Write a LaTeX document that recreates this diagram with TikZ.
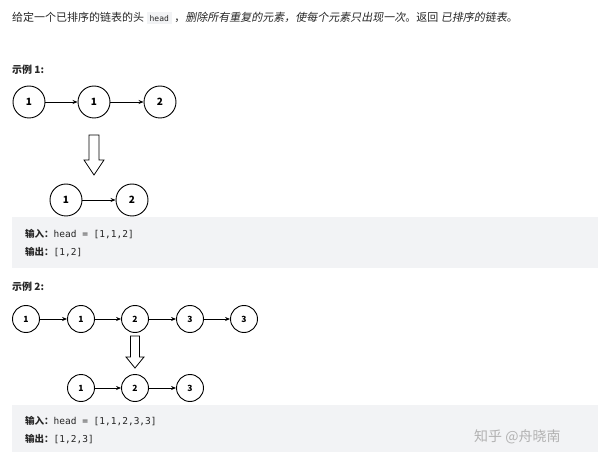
\documentclass[tikz,border=0pt]{standalone}
\usepackage{fontspec}
\setmainfont{Noto Sans CJK SC}
\newfontfamily\slantcjk[FakeSlant=0.2]{Noto Sans CJK SC}
\setmonofont{DejaVu Sans Mono}
\usetikzlibrary{arrows.meta}
\definecolor{codebg}{HTML}{F2F3F5}
\definecolor{txt}{HTML}{262626}
\tikzset{
  nodeA/.style={circle,draw,line width=0.9pt,minimum size=32pt,inner sep=0pt,font=\bfseries\fontsize{10}{12}\selectfont},
  nodeB/.style={circle,draw,line width=0.9pt,minimum size=27pt,inner sep=0pt,font=\bfseries\fontsize{8.5}{10}\selectfont},
  lnk/.style={-{Stealth[length=5pt,width=4pt]},line width=0.7pt},
  hollow/.style={draw,line width=0.8pt,fill=white},
  lbl/.style={anchor=west,inner sep=0pt,font=\fontsize{11}{13}\selectfont,text=txt},
  code/.style={anchor=west,inner sep=0pt,font=\fontsize{9.5}{11}\selectfont,text=txt}
}
\begin{document}
\begin{tikzpicture}[x=1pt,y=-1pt]
\useasboundingbox[fill=white] (0,0) rectangle (600,465);
\node[lbl] (intro) at (12,18) {给定一个已排序的链表的头 \colorbox{codebg}{\ttfamily\fontsize{8}{9}\selectfont head} ，{\slantcjk 删除所有重复的元素，使每个元素只出现一次}。返回 {\slantcjk 已排序的链表}。};
\node[lbl,font=\bfseries\fontsize{10}{12}\selectfont] (ex1) at (12,70) {示例 1:};
\node[nodeA] (a1) at (29,102) {1};
\node[nodeA] (a2) at (94,102) {1};
\node[nodeA] (a3) at (160,102) {2};
\draw[lnk] (a1) -- (a2);
\draw[lnk] (a2) -- (a3);
\draw[hollow] (89,135) -- (99,135) -- (99,160) -- (104,160) -- (94,175) -- (84,160) -- (89,160) -- cycle;
\node[nodeA] (b1) at (66,200) {1};
\node[nodeA] (b2) at (132,200) {2};
\draw[lnk] (b1) -- (b2);
\fill[codebg] (12,217) rectangle (598,268);
\node[code] (in1) at (25,234) {\textbf{输入：}\ttfamily head = [1,1,2]};
\node[code] (out1) at (25,252) {\textbf{输出：}\ttfamily [1,2]};
\node[lbl,font=\bfseries\fontsize{10}{12}\selectfont] (ex2) at (12,287) {示例 2:};
\node[nodeB] (c1) at (26,319) {1};
\node[nodeB] (c2) at (81,319) {1};
\node[nodeB] (c3) at (135,319) {2};
\node[nodeB] (c4) at (190,319) {3};
\node[nodeB] (c5) at (244,319) {3};
\draw[lnk] (c1) -- (c2);
\draw[lnk] (c2) -- (c3);
\draw[lnk] (c3) -- (c4);
\draw[lnk] (c4) -- (c5);
\draw[hollow] (130.5,336) -- (139.5,336) -- (139.5,357) -- (144,357) -- (135,368) -- (126,357) -- (130.5,357) -- cycle;
\node[nodeB] (d1) at (81,388) {1};
\node[nodeB] (d2) at (135,388) {2};
\node[nodeB] (d3) at (190,388) {3};
\draw[lnk] (d1) -- (d2);
\draw[lnk] (d2) -- (d3);
\fill[codebg] (12,405) rectangle (598,452);
\node[code] (in2) at (25,421) {\textbf{输入：}\ttfamily head = [1,1,2,3,3]};
\node[code] (out2) at (25,439) {\textbf{输出：}\ttfamily [1,2,3]};
\node[anchor=west,inner sep=0pt,font=\fontsize{14}{16}\selectfont,text=gray!60] (wm) at (474,437) {知乎 @舟晓南};
\end{tikzpicture}
\end{document}
